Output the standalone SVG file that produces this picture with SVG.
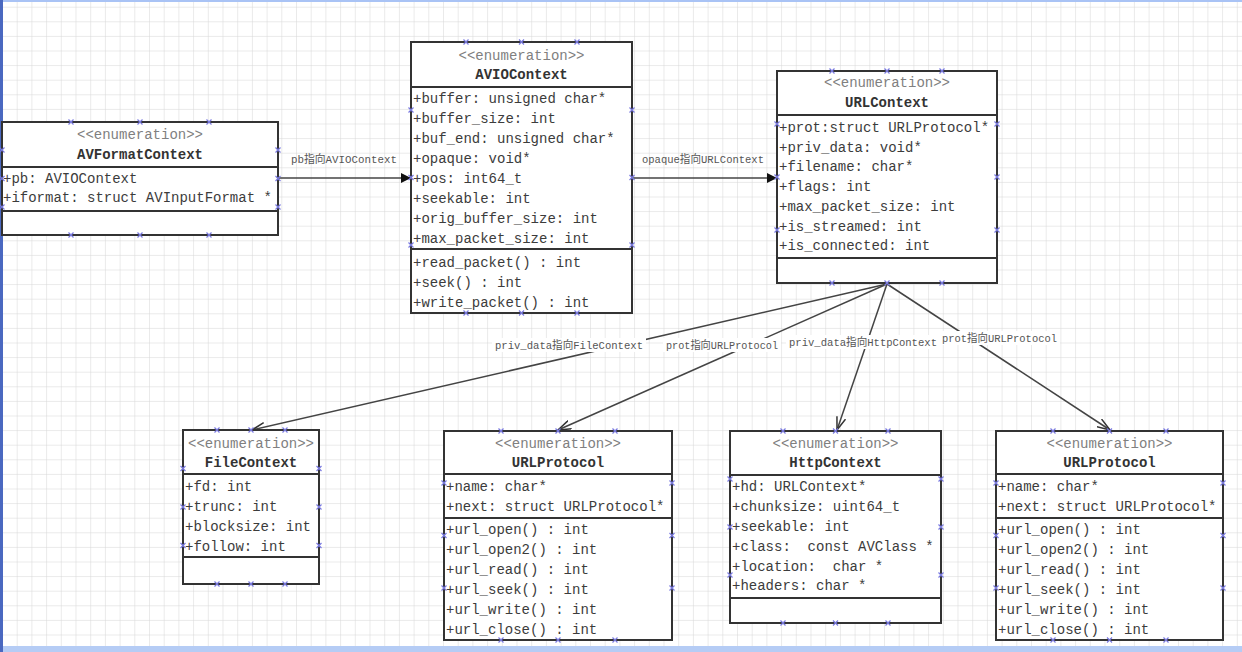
<svg xmlns="http://www.w3.org/2000/svg" xmlns:xlink="http://www.w3.org/1999/xlink" width="1242" height="652" viewBox="0 0 1242 652">
<style>
.box{fill:#fff;stroke:#333;stroke-width:2}
.div{stroke:#333;stroke-width:2}
.st{font-family:"Liberation Mono",monospace;font-size:14px;fill:#808080;text-anchor:middle}
.nm{font-family:"Liberation Mono",monospace;font-size:14px;font-weight:bold;fill:#333;text-anchor:middle}
.at{font-family:"Liberation Mono",monospace;font-size:14px;fill:#3c3c3c}
.lb{font-family:"Liberation Mono","Noto Sans CJK SC",monospace;font-size:11px;fill:#555}
.lbg{fill:#fff}
.cn{fill:none;stroke:#444;stroke-width:1.5}
</style>
<defs>
<pattern id="grid" x="2" y="6.7" width="14.7" height="14.6" patternUnits="userSpaceOnUse">
<path d="M0,0 H14.7 M0,0 V14.6" fill="none" stroke="#d6d6d6" stroke-width="1"/>
</pattern>
<marker id="fa" viewBox="0 0 10 10" refX="10" refY="5" markerWidth="10" markerHeight="10" markerUnits="userSpaceOnUse" orient="auto">
<path d="M0,0 L10,5 L0,10 z" fill="#111"/>
</marker>
<marker id="oa" viewBox="0 0 14 10" refX="13" refY="5" markerWidth="14" markerHeight="10" markerUnits="userSpaceOnUse" orient="auto">
<path d="M0,0.5 L13,5 L0,9.5" fill="none" stroke="#333" stroke-width="1.5"/>
</marker>
<path id="cp" d="M-2.5,-2.5 L2.5,2.5 M-2.5,2.5 L2.5,-2.5" stroke="#7a7ae0" stroke-width="1.2" fill="none"/>
</defs>
<rect width="1242" height="652" fill="#fff"/>
<rect width="1242" height="652" fill="url(#grid)"/>
<rect x="0" y="0" width="1242" height="2" fill="#a9c3f5"/>
<rect x="0" y="646" width="1242" height="6" fill="#b5ccf5"/>
<rect x="0" y="0" width="3" height="652" fill="#4a68c0"/>

<g id="connectors">
<line class="cn" x1="278" y1="178" x2="411" y2="178" marker-end="url(#fa)"/>
<line class="cn" x1="632" y1="178" x2="777" y2="178" marker-end="url(#fa)"/>
<line class="cn" x1="887" y1="284" x2="252" y2="430" marker-end="url(#oa)"/>
<line class="cn" x1="887" y1="284" x2="558" y2="430" marker-end="url(#oa)"/>
<line class="cn" x1="887" y1="284" x2="837" y2="430" marker-end="url(#oa)"/>
<line class="cn" x1="887" y1="284" x2="1110" y2="430" marker-end="url(#oa)"/>
<text class="lb" x="291" y="163" textLength="106" lengthAdjust="spacingAndGlyphs">pb指向AVIOContext</text>
<text class="lb" x="642" y="163" textLength="122" lengthAdjust="spacingAndGlyphs">opaque指向URLContext</text>
<rect class="lbg" x="492" y="338" width="154" height="14"/>
<text class="lb" x="495" y="349" textLength="148" lengthAdjust="spacingAndGlyphs">priv_data指向FileContext</text>
<rect class="lbg" x="663" y="338" width="118" height="14"/>
<text class="lb" x="666" y="349" textLength="112" lengthAdjust="spacingAndGlyphs">prot指向URLProtocol</text>
<rect class="lbg" x="786" y="335" width="154" height="14"/>
<text class="lb" x="789" y="346" textLength="148" lengthAdjust="spacingAndGlyphs">priv_data指向HttpContext</text>
<rect class="lbg" x="940" y="331" width="120" height="14"/>
<text class="lb" x="942" y="342" textLength="115" lengthAdjust="spacingAndGlyphs">prot指向URLProtocol</text>
</g>

<g id="AVFormatContext">
<rect class="box" x="2" y="122" width="276" height="113"/>
<line class="div" x1="2" y1="167" x2="278" y2="167"/>
<line class="div" x1="2" y1="211" x2="278" y2="211"/>
<text class="st" x="140" y="139">&lt;&lt;enumeration&gt;&gt;</text>
<text class="nm" x="140" y="159">AVFormatContext</text>
<text class="at" x="3" y="183">+pb: AVIOContext</text>
<text class="at" x="3" y="202">+iformat: struct AVInputFormat *</text>
<use href="#cp" x="71" y="122"/><use href="#cp" x="140" y="122"/><use href="#cp" x="209" y="122"/>
<use href="#cp" x="71" y="235"/><use href="#cp" x="140" y="235"/><use href="#cp" x="209" y="235"/>
<use href="#cp" x="2" y="150"/><use href="#cp" x="2" y="178.5"/><use href="#cp" x="2" y="207"/>
<use href="#cp" x="278" y="150"/><use href="#cp" x="278" y="178.5"/><use href="#cp" x="278" y="207"/>
</g>

<g id="AVIOContext">
<rect class="box" x="411" y="42" width="221" height="271"/>
<line class="div" x1="411" y1="87" x2="632" y2="87"/>
<line class="div" x1="411" y1="249" x2="632" y2="249"/>
<text class="st" x="521.5" y="60">&lt;&lt;enumeration&gt;&gt;</text>
<text class="nm" x="521.5" y="79">AVIOContext</text>
<text class="at" x="413" y="103">+buffer: unsigned char*</text>
<text class="at" x="413" y="123">+buffer_size: int</text>
<text class="at" x="413" y="143">+buf_end: unsigned char*</text>
<text class="at" x="413" y="163">+opaque: void*</text>
<text class="at" x="413" y="183">+pos: int64_t</text>
<text class="at" x="413" y="203">+seekable: int</text>
<text class="at" x="413" y="223">+orig_buffer_size: int</text>
<text class="at" x="413" y="243">+max_packet_size: int</text>
<text class="at" x="413" y="267">+read_packet() : int</text>
<text class="at" x="413" y="287">+seek() : int</text>
<text class="at" x="413" y="307">+write_packet() : int</text>
<use href="#cp" x="466" y="42"/><use href="#cp" x="521.5" y="42"/><use href="#cp" x="577" y="42"/>
<use href="#cp" x="466" y="313"/><use href="#cp" x="521.5" y="313"/><use href="#cp" x="577" y="313"/>
<use href="#cp" x="411" y="110"/><use href="#cp" x="411" y="177.5"/><use href="#cp" x="411" y="245"/>
<use href="#cp" x="632" y="110"/><use href="#cp" x="632" y="177.5"/><use href="#cp" x="632" y="245"/>
</g>

<g id="URLContext">
<rect class="box" x="777" y="71" width="220" height="212"/>
<line class="div" x1="777" y1="115" x2="997" y2="115"/>
<line class="div" x1="777" y1="258" x2="997" y2="258"/>
<text class="st" x="887" y="87">&lt;&lt;enumeration&gt;&gt;</text>
<text class="nm" x="887" y="107">URLContext</text>
<text class="at" x="779" y="132">+prot:struct URLProtocol*</text>
<text class="at" x="779" y="151.7">+priv_data: void*</text>
<text class="at" x="779" y="171.4">+filename: char*</text>
<text class="at" x="779" y="191.1">+flags: int</text>
<text class="at" x="779" y="210.8">+max_packet_size: int</text>
<text class="at" x="779" y="230.5">+is_streamed: int</text>
<text class="at" x="779" y="250.2">+is_connected: int</text>
<use href="#cp" x="832" y="71"/><use href="#cp" x="887" y="71"/><use href="#cp" x="942" y="71"/>
<use href="#cp" x="832" y="283"/><use href="#cp" x="887" y="283"/><use href="#cp" x="942" y="283"/>
<use href="#cp" x="777" y="124"/><use href="#cp" x="777" y="177"/><use href="#cp" x="777" y="230"/>
<use href="#cp" x="997" y="124"/><use href="#cp" x="997" y="177"/><use href="#cp" x="997" y="230"/>
</g>

<g id="FileContext">
<rect class="box" x="183" y="430" width="136" height="154"/>
<line class="div" x1="183" y1="474" x2="319" y2="474"/>
<line class="div" x1="183" y1="557" x2="319" y2="557"/>
<text class="st" x="251" y="448">&lt;&lt;enumeration&gt;&gt;</text>
<text class="nm" x="251" y="467">FileContext</text>
<text class="at" x="185" y="491">+fd: int</text>
<text class="at" x="185" y="511">+trunc: int</text>
<text class="at" x="185" y="531">+blocksize: int</text>
<text class="at" x="185" y="551">+follow: int</text>
<use href="#cp" x="217" y="430"/><use href="#cp" x="251" y="430"/><use href="#cp" x="285" y="430"/>
<use href="#cp" x="217" y="584"/><use href="#cp" x="251" y="584"/><use href="#cp" x="285" y="584"/>
<use href="#cp" x="183" y="468.5"/><use href="#cp" x="183" y="507"/><use href="#cp" x="183" y="545.5"/>
<use href="#cp" x="319" y="468.5"/><use href="#cp" x="319" y="507"/><use href="#cp" x="319" y="545.5"/>
</g>

<g id="URLProtocol1">
<rect class="box" x="444" y="431" width="228" height="209"/>
<line class="div" x1="444" y1="474" x2="672" y2="474"/>
<line class="div" x1="444" y1="518" x2="672" y2="518"/>
<text class="st" x="558" y="448">&lt;&lt;enumeration&gt;&gt;</text>
<text class="nm" x="558" y="467">URLProtocol</text>
<text class="at" x="446" y="491">+name: char*</text>
<text class="at" x="446" y="511">+next: struct URLProtocol*</text>
<text class="at" x="446" y="534">+url_open() : int</text>
<text class="at" x="446" y="554">+url_open2() : int</text>
<text class="at" x="446" y="574">+url_read() : int</text>
<text class="at" x="446" y="594">+url_seek() : int</text>
<text class="at" x="446" y="614">+url_write() : int</text>
<text class="at" x="446" y="634">+url_close() : int</text>
<use href="#cp" x="501" y="431"/><use href="#cp" x="558" y="431"/><use href="#cp" x="615" y="431"/>
<use href="#cp" x="501" y="640"/><use href="#cp" x="558" y="640"/><use href="#cp" x="615" y="640"/>
<use href="#cp" x="444" y="483"/><use href="#cp" x="444" y="535.5"/><use href="#cp" x="444" y="588"/>
<use href="#cp" x="672" y="483"/><use href="#cp" x="672" y="535.5"/><use href="#cp" x="672" y="588"/>
</g>

<g id="HttpContext">
<rect class="box" x="730" y="431" width="211" height="192"/>
<line class="div" x1="730" y1="475" x2="941" y2="475"/>
<line class="div" x1="730" y1="598" x2="941" y2="598"/>
<text class="st" x="835.5" y="448">&lt;&lt;enumeration&gt;&gt;</text>
<text class="nm" x="835.5" y="467">HttpContext</text>
<text class="at" x="732" y="491">+hd: URLContext*</text>
<text class="at" x="732" y="511">+chunksize: uint64_t</text>
<text class="at" x="732" y="531">+seekable: int</text>
<text class="at" x="732" y="551" xml:space="preserve">+class:  const AVClass *</text>
<text class="at" x="732" y="571" xml:space="preserve">+location:  char *</text>
<text class="at" x="732" y="590">+headers: char *</text>
<use href="#cp" x="783" y="431"/><use href="#cp" x="835.5" y="431"/><use href="#cp" x="888" y="431"/>
<use href="#cp" x="783" y="623"/><use href="#cp" x="835.5" y="623"/><use href="#cp" x="888" y="623"/>
<use href="#cp" x="730" y="479"/><use href="#cp" x="730" y="527"/><use href="#cp" x="730" y="575"/>
<use href="#cp" x="941" y="479"/><use href="#cp" x="941" y="527"/><use href="#cp" x="941" y="575"/>
</g>

<g id="URLProtocol2">
<rect class="box" x="996" y="431" width="227" height="209"/>
<line class="div" x1="996" y1="474" x2="1223" y2="474"/>
<line class="div" x1="996" y1="518" x2="1223" y2="518"/>
<text class="st" x="1109.5" y="448">&lt;&lt;enumeration&gt;&gt;</text>
<text class="nm" x="1109.5" y="467">URLProtocol</text>
<text class="at" x="998" y="491">+name: char*</text>
<text class="at" x="998" y="511">+next: struct URLProtocol*</text>
<text class="at" x="998" y="534">+url_open() : int</text>
<text class="at" x="998" y="554">+url_open2() : int</text>
<text class="at" x="998" y="574">+url_read() : int</text>
<text class="at" x="998" y="594">+url_seek() : int</text>
<text class="at" x="998" y="614">+url_write() : int</text>
<text class="at" x="998" y="634">+url_close() : int</text>
<use href="#cp" x="1053" y="431"/><use href="#cp" x="1109.5" y="431"/><use href="#cp" x="1166" y="431"/>
<use href="#cp" x="1053" y="640"/><use href="#cp" x="1109.5" y="640"/><use href="#cp" x="1166" y="640"/>
<use href="#cp" x="996" y="483"/><use href="#cp" x="996" y="535.5"/><use href="#cp" x="996" y="588"/>
<use href="#cp" x="1223" y="483"/><use href="#cp" x="1223" y="535.5"/><use href="#cp" x="1223" y="588"/>
</g>
</svg>
